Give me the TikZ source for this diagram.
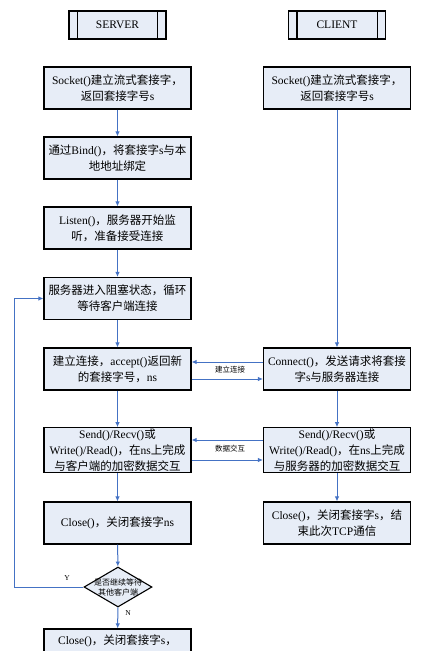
\documentclass[tikz,border=0pt]{standalone}
\usepackage{fontspec}
\setmainfont{Liberation Serif}
\newfontfamily\cjk{Noto Sans CJK SC}
\usetikzlibrary{shapes.geometric,arrows.meta}
% Chinese characters switch to the CJK font by themselves
\XeTeXinterchartokenstate=1
\newXeTeXintercharclass\hanclass
\count255="3000
\loop \XeTeXcharclass\count255=\hanclass \ifnum\count255<"303F \advance\count255 by 1 \repeat
\count255="4E00
\loop \XeTeXcharclass\count255=\hanclass \ifnum\count255<"9FFF \advance\count255 by 1 \repeat
\count255="FF00
\loop \XeTeXcharclass\count255=\hanclass \ifnum\count255<"FFEF \advance\count255 by 1 \repeat
\XeTeXinterchartoks 0 \hanclass = {\cjk}
\XeTeXinterchartoks 4095 \hanclass = {\cjk}
\XeTeXinterchartoks \hanclass 0 = {\rmfamily}
\XeTeXinterchartoks \hanclass 4095 = {\rmfamily}
\definecolor{boxfill}{RGB}{231,237,247}
\definecolor{linkblue}{RGB}{68,114,196}
\begin{document}
\begin{tikzpicture}[x=1pt,y=-1pt,
  box/.style={draw, line width=1.1pt, fill=boxfill, minimum width=147pt, minimum height=42pt, align=center, inner sep=1pt, font=\fontsize{11.5}{16}\selectfont},
  head/.style={draw, line width=1.1pt, fill=boxfill, minimum width=97pt, minimum height=28pt, font=\fontsize{11.5}{13}\selectfont},
  decision/.style={draw, line width=1.1pt, fill=boxfill, diamond, minimum width=68pt, minimum height=40pt, inner sep=0pt},
  arr/.style={draw=linkblue, line width=1pt, -{Latex[length=5pt,width=4.5pt]}},
  small/.style={font=\fontsize{7.5}{9}\selectfont, align=center}]
\useasboundingbox (0,0) rectangle (444,651);
% headers
\node[head] (hs) at (117.5,25){SERVER};
\node[head] (hc) at (337,25){CLIENT};
\foreach \n in {hs,hc}{
\draw[line width=1.1pt] ([xshift=9pt]\n.north west) -- ([xshift=9pt]\n.south west);
\draw[line width=1.1pt] ([xshift=-9pt]\n.north east) -- ([xshift=-9pt]\n.south east);
}
% server side
\node[box] (s1) at (117.5,88){Socket()建立流式套接字，\\返回套接字号s};
\node[box] (s2) at (117.5,158){通过Bind()，将套接字s与本\\地地址绑定};
\node[box] (s3) at (117.5,228){Listen()，服务器开始监\\听，准备接受连接};
\node[box] (s4) at (117.5,298.5){服务器进入阻塞状态，循环\\等待客户端连接};
\node[box] (s5) at (117.5,369){建立连接，accept()返回新\\的套接字号，ns};
\node[box] (s6) at (117.5,450){Send()/Recv()或\\Write()/Read()，在ns上完成\\与客户端的加密数据交互};
\node[box] (s7) at (117.5,523){Close()，关闭套接字ns};
\node[decision] (dec) at (118,587){};
\node[small, font=\fontsize{8}{10}\selectfont] (dect) at (dec.center){是否继续等待\\其他客户端};
\node[box] (s8) at (117.5,650){Close()，关闭套接字s，\\\strut};
% client side
\node[box] (c1) at (337,88){Socket()建立流式套接字，\\返回套接字号s};
\node[box] (c5) at (337,369){Connect()，发送请求将套接\\字s与服务器连接};
\node[box] (c6) at (337,450){Send()/Recv()或\\Write()/Read()，在ns上完成\\与服务器的加密数据交互};
\node[box] (c7) at (337,523){Close()，关闭套接字s，结\\束此次TCP通信};
\coordinate (lp) at (14,587);
% arrows
\draw[arr] (s1) -- (s2);
\draw[arr] (s2) -- (s3);
\draw[arr] (s3) -- (s4);
\draw[arr] (s4) -- (s5);
\draw[arr] (s5) -- (s6);
\draw[arr] (s6) -- (s7);
\draw[arr] (s7) -- (dec);
\draw[arr] (dec) -- (s8);
\draw[arr] (dec.west) -- (lp) |- (s4.west);
\draw[arr] (c1) -- (c5);
\draw[arr] (c5) -- (c6);
\draw[arr] (c6) -- (c7);
\draw[arr] ([yshift=7pt]c5.west) -- ([yshift=7pt]s5.east);
\draw[arr] ([yshift=-10pt]s5.east) -- ([yshift=-10pt]c5.west);
\draw[arr] ([yshift=10pt]c6.west) -- ([yshift=10pt]s6.east);
\draw[arr] ([yshift=-10pt]s6.east) -- ([yshift=-10pt]c6.west);
% labels
\node[small] (lb1) at (230,370){建立连接};
\node[small] (lb2) at (230,449){数据交互};
\node[small] (ly) at (67,578){Y};
\node[small] (ln) at (128,613){N};
\end{tikzpicture}
\end{document}
